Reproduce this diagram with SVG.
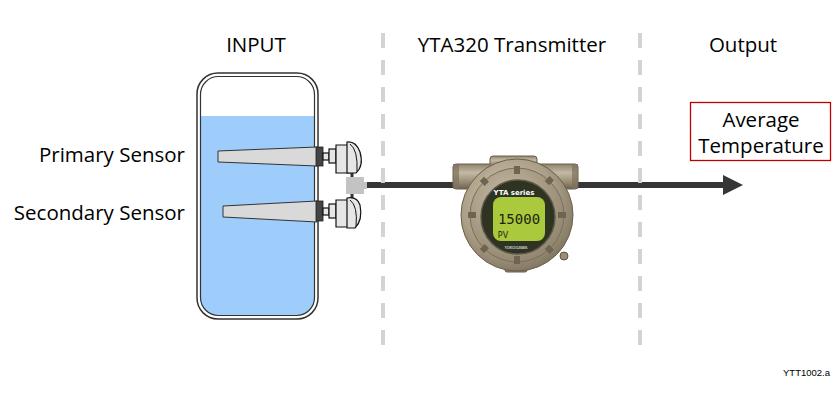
<svg xmlns="http://www.w3.org/2000/svg" width="839" height="417" viewBox="0 0 839 417">
<style>
  .lbl { font-family: "Open Sans", "DejaVu Sans", sans-serif; font-size: 20.5px; fill: #000; }
  .hdr { font-family: "Open Sans", "DejaVu Sans", sans-serif; font-size: 20.5px; fill: #000; text-anchor: middle; }
  .divider { stroke: #d3d3d3; stroke-width: 4; stroke-dasharray: 15 12; fill: none; }
  .probe { fill: #d9d9d9; stroke: #333; stroke-width: 1; }
  .collar { fill: #444; stroke: #222; stroke-width: 0.8; }
  .part { fill: #e6e6e6; stroke: #111; stroke-width: 1.2; }
  .metal { stroke: #6a5f4c; stroke-width: 1; }
  .notch { fill: #6f6450; }
</style>
<defs>
  <marker id="arrowhead" markerUnits="userSpaceOnUse" markerWidth="20" markerHeight="20" refX="0" refY="10" orient="auto">
    <path d="M0,0 L20,10 L0,20 z" fill="#363636"/>
  </marker>
  <linearGradient id="cyl" x1="0" y1="0" x2="0" y2="1">
    <stop offset="0" stop-color="#8f836c"/>
    <stop offset="0.35" stop-color="#c4b9a2"/>
    <stop offset="0.7" stop-color="#9a8e77"/>
    <stop offset="1" stop-color="#6e634f"/>
  </linearGradient>
  <radialGradient id="housing" cx="0.42" cy="0.38" r="0.7">
    <stop offset="0" stop-color="#d2c8b2"/>
    <stop offset="0.6" stop-color="#ab9f87"/>
    <stop offset="1" stop-color="#776c57"/>
  </radialGradient>
  <radialGradient id="bezel" cx="0.4" cy="0.35" r="0.75">
    <stop offset="0" stop-color="#c8bda6"/>
    <stop offset="1" stop-color="#8c806a"/>
  </radialGradient>
</defs>

<!-- headers -->
<g id="headers">
  <text class="hdr" x="256" y="52">INPUT</text>
  <text class="hdr" x="512" y="52">YTA320 Transmitter</text>
  <text class="hdr" x="743" y="52">Output</text>
</g>

<!-- connectors -->
<g id="connectors">
  <line x1="365" y1="185" x2="723" y2="185" stroke="#363636" stroke-width="6" marker-end="url(#arrowhead)"/>
  <line x1="352" y1="172" x2="352" y2="200" stroke="#333" stroke-width="3"/>
</g>

<!-- tank -->
<g id="tank">
  <rect x="197" y="73" width="121" height="246" rx="21" fill="#fff" stroke="#333" stroke-width="1.5"/>
  <path d="M200.5,116 H314.5 V297 A18,18 0 0 1 296.5,315.5 H218.5 A18,18 0 0 1 200.5,297 Z" fill="#9ecdfc"/>
  <rect x="200.5" y="76.5" width="114" height="239" rx="18" fill="none" stroke="#333" stroke-width="1.2"/>
</g>

<!-- primary sensor -->
<g id="primary-sensor">
  <polygon class="probe" points="218,151 317,147 317,166 218,162"/>
  <rect class="collar" x="316" y="147" width="7" height="19"/>
  <rect class="part" x="323" y="153" width="6" height="7"/>
  <rect class="part" x="329" y="149" width="7" height="14"/>
  <path class="part" d="M336,145 H350 V173 H336 Z"/>
  <path class="part" d="M347,142 Q356,141 360,152 Q364,166 356,173 L347,173 Z"/>
  <path d="M350,144 Q358,150 357,171" fill="none" stroke="#111" stroke-width="1"/>
</g>

<!-- secondary sensor -->
<g id="secondary-sensor">
  <polygon class="probe" points="223,206 317,201 317,222 223,217"/>
  <rect class="collar" x="316" y="201" width="7" height="20"/>
  <rect class="part" x="323" y="208" width="6" height="7"/>
  <rect class="part" x="329" y="204" width="7" height="14"/>
  <path class="part" d="M336,200 H350 V227 H336 Z"/>
  <path class="part" d="M347,198 Q357,196 360,205 Q363,220 355,228 L347,228 Z"/>
  <path d="M350,200 Q358,206 356,226" fill="none" stroke="#111" stroke-width="1"/>
</g>

<!-- junction -->
<g id="junction">
  <rect x="346" y="177" width="18" height="17" fill="#c3c3c3"/>
  <rect x="363" y="182" width="4" height="7" fill="#c3c3c3"/>
</g>

<!-- labels -->
<g id="sensor-labels">
  <text class="lbl" x="185" y="162" text-anchor="end">Primary Sensor</text>
  <text class="lbl" x="185" y="220" text-anchor="end">Secondary Sensor</text>
</g>

<!-- transmitter -->
<g id="transmitter">
  <rect class="metal" x="453" y="164" width="125" height="25" rx="3" fill="url(#cyl)"/>
  <rect x="453" y="164" width="6" height="25" fill="#7d725d" opacity="0.7"/>
  <rect x="572" y="164" width="6" height="25" fill="#7d725d" opacity="0.7"/>
  <rect class="metal" x="490" y="156" width="47" height="12" rx="3" fill="url(#cyl)"/>
  <rect class="metal" x="505" y="262" width="22" height="10" rx="2" fill="#8a7e68"/>
  <circle class="metal" cx="517" cy="215" r="56" fill="url(#housing)"/>
  <circle cx="517" cy="215" r="47" fill="url(#bezel)" stroke="#7a6f5a" stroke-width="1"/>
  <g class="notch">
    <rect x="514" y="166" width="6" height="8"/>
    <rect x="514" y="256" width="6" height="8"/>
    <rect x="468" y="212" width="8" height="6"/>
    <rect x="558" y="212" width="8" height="6"/>
    <rect x="481" y="178" width="7" height="6" transform="rotate(45 484 181)"/>
    <rect x="546" y="178" width="7" height="6" transform="rotate(-45 549 181)"/>
    <rect x="481" y="246" width="7" height="6" transform="rotate(-45 484 249)"/>
    <rect x="546" y="246" width="7" height="6" transform="rotate(45 549 249)"/>
  </g>
  <circle cx="564" cy="256" r="4" fill="#9a8e77" stroke="#5e5443" stroke-width="1"/>
  <circle cx="518" cy="217" r="37" fill="#2e3322" stroke="#5d5848" stroke-width="1.5"/>
  <rect x="493" y="197" width="52" height="44" rx="8" fill="#abc93c"/>
  <text x="514" y="195" text-anchor="middle" font-family="'DejaVu Sans', sans-serif" font-size="7" font-weight="bold" fill="#fff">YTA series</text>
  <text x="519" y="224" text-anchor="middle" font-family="'DejaVu Sans Mono', monospace" font-size="14" fill="#1c2410">15000</text>
  <text x="503" y="238" text-anchor="middle" font-family="'DejaVu Sans', sans-serif" font-size="8" fill="#1c2410">PV</text>
  <text x="516" y="249" text-anchor="middle" font-family="'DejaVu Sans', sans-serif" font-size="4" fill="#fff">YOKOGAWA</text>
</g>

<!-- output box -->
<g id="output">
  <rect x="690.5" y="102.5" width="140" height="58" fill="#fff" stroke="#c00000" stroke-width="1.3"/>
  <text class="hdr" x="761" y="127" font-size="21">Average</text>
  <text class="hdr" x="761" y="153" font-size="21">Temperature</text>
</g>

<!-- dividers -->
<g id="dividers">
  <line class="divider" x1="383" y1="33" x2="383" y2="356"/>
  <line class="divider" x1="640" y1="33" x2="640" y2="356"/>
</g>

<text x="830" y="376" text-anchor="end" font-family="'Liberation Sans', Arial, sans-serif" font-size="9.5" fill="#000">YTT1002.a</text>
</svg>
